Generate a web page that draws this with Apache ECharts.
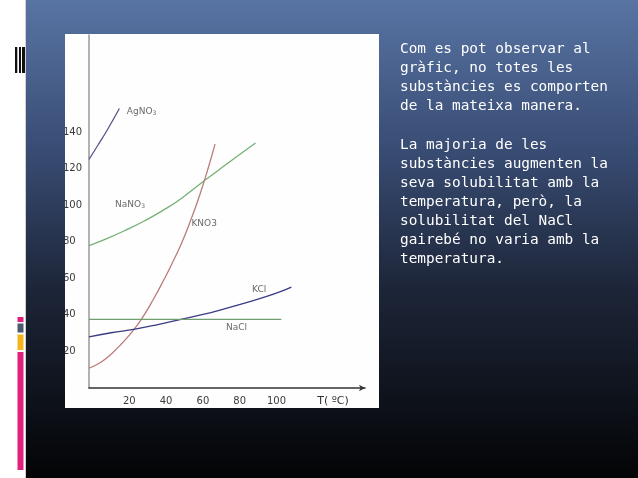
<!DOCTYPE html>
<html>
<head>
<meta charset="utf-8">
<style>
  html, body { margin: 0; padding: 0; background: #fff; }
  #main { width: 638px; height: 478px; }
</style>
<script src="https://cdn.jsdelivr.net/npm/echarts@6/dist/echarts.min.js"></script>
</head>
<body>
<div id="main"></div>
<script>
// solubility curves, [T (ºC), g / 100 g water]
var agno3 = [[0, 125], [5, 133], [10, 141.2], [16.5, 152.8]];
var nano3 = [[0, 77.8], [10, 81.8], [20, 86.3], [30, 91.3], [40, 97], [50, 103.5], [60, 111.3], [70, 118.8], [80, 126.3], [90.5, 134]];
var kno3 = [[0, 10.8], [6, 13.8], [12, 18.5], [18, 24.5], [24.6, 32.2], [30, 40], [35, 48.5], [40, 57.8], [45, 67.8], [50, 78.5], [55, 91], [60, 105], [65, 121], [68.5, 133.3]];
var kcl = [[0, 28], [12, 30.2], [25, 32.2], [38, 34.8], [50, 37.5], [62, 40.2], [74, 43.4], [86, 46.8], [97, 50.2], [104, 52.7], [110, 55.2]];
var nacl = [[0, 37.5], [104.5, 37.5]];

// curve name tags, placed in data coordinates
var curveLabels = [
    {name: 'AgNO{s|3}', value: [28.6, 151]},
    {name: 'NaNO{s|3}', value: [22.3, 100]},
    {name: 'KNO3', value: [62.6, 89.6]},
    {name: 'KCl', value: [92.5, 54]},
    {name: 'NaCl', value: [80.2, 33]}
];

var xTicks = [20, 40, 60, 80, 100];
var yTicks = [20, 40, 60, 80, 100, 120, 140];

var slideText = [
    'Com es pot observar al',
    'gràfic, no totes les',
    'substàncies es comporten',
    'de la mateixa manera.',
    '',
    'La majoria de les',
    'substàncies augmenten la',
    'seva solubilitat amb la',
    'temperatura, però, la',
    'solubilitat del NaCl',
    'gairebé no varia amb la',
    'temperatura.'
].join('\n');

function slideBg() {
    return {
        type: 'linear', x: 0, y: 0, x2: 0, y2: 478, global: true,
        colorStops: [
            {offset: 0, color: '#5874a3'},
            {offset: 0.3, color: '#3a4e76'},
            {offset: 0.6, color: '#1d2639'},
            {offset: 1, color: '#030405'}
        ]
    };
}

var myChart = echarts.init(document.getElementById('main'));

function line(data, color) {
    return {
        type: 'line',
        data: data,
        smooth: true,
        symbol: 'none',
        lineStyle: {color: color, width: 1.3},
        z: 3
    };
}

option = {
    animation: false,
    backgroundColor: '#ffffff',
    textStyle: {fontFamily: 'DejaVu Sans'},
    graphic: [
        // dark slide background
        {type: 'rect', z: -100, shape: {x: 26, y: 0, width: 612, height: 478}, style: {fill: slideBg()}},
        {type: 'rect', z: -100, shape: {x: 25, y: 0, width: 1, height: 478}, style: {fill: '#d0d0d0'}},
        // white picture panel
        {type: 'rect', z: -90, shape: {x: 65, y: 34, width: 314, height: 374}, style: {fill: '#fefefe'}},
        // strip that crops the tick labels at the panel edge
        {type: 'rect', z: 100, shape: {x: 26, y: 0, width: 39, height: 478}, style: {fill: slideBg()}},
        // decorations on the left white strip
        {type: 'rect', z: 100, shape: {x: 15, y: 47, width: 2.3, height: 26}, style: {fill: '#111'}},
        {type: 'rect', z: 100, shape: {x: 19, y: 47, width: 2, height: 26}, style: {fill: '#111'}},
        {type: 'rect', z: 100, shape: {x: 22, y: 47, width: 3, height: 26}, style: {fill: '#111'}},
        {type: 'rect', z: 100, shape: {x: 17.5, y: 317, width: 6, height: 5}, style: {fill: '#e0207c'}},
        {type: 'rect', z: 100, shape: {x: 17.5, y: 323.5, width: 6, height: 9}, style: {fill: '#4c5a70'}},
        {type: 'rect', z: 100, shape: {x: 17.5, y: 334.5, width: 6, height: 15.5}, style: {fill: '#f3b41c'}},
        {type: 'rect', z: 100, shape: {x: 17.5, y: 352, width: 6, height: 118}, style: {fill: '#e0207c'}},
        // axis title
        {type: 'text', z: 100, x: 333, y: 401, style: {
            text: 'T( ºC)', fill: '#333', font: '11px "DejaVu Sans"', align: 'center', verticalAlign: 'middle'
        }},
        // slide text
        {type: 'text', z: 100, x: 400, y: 39.8, style: {
            text: slideText, fill: '#ffffff', font: '14.4px "DejaVu Sans Mono"', lineHeight: 19.1
        }}
    ],
    grid: {
        left: 89,
        right: 273,
        top: 35,
        bottom: 90
    },
    xAxis: {
        type: 'value',
        min: 0,
        max: 150,
        interval: 20,
        splitLine: {show: false},
        axisTick: {show: false},
        axisLine: {
            show: true,
            symbol: ['none', 'arrow'],
            symbolSize: [5, 6],
            lineStyle: {color: '#333', width: 1.5}
        },
        axisLabel: {
            color: '#3a3a3a',
            fontSize: 10,
            margin: 8,
            padding: [0, 0, 0, 7],
            formatter: function (v) {
                return xTicks.indexOf(v) >= 0 ? String(v) : '';
            }
        }
    },
    yAxis: {
        type: 'value',
        min: 0,
        max: 193,
        interval: 20,
        splitLine: {show: false},
        axisTick: {show: false},
        axisLine: {
            show: true,
            lineStyle: {color: '#999', width: 1.5}
        },
        axisLabel: {
            color: '#3a3a3a',
            fontSize: 10,
            align: 'left',
            margin: 26,
            formatter: function (v) {
                return yTicks.indexOf(v) >= 0 ? String(v) : '';
            }
        }
    },
    series: [
        line(agno3, '#56568a'),
        line(nano3, '#74b074'),
        line(kno3, '#bb7b7b'),
        line(kcl, '#3b3b85'),
        line(nacl, '#6f9f6f'),
        {
            type: 'scatter',
            data: curveLabels,
            symbolSize: 0,
            silent: true,
            z: 4,
            label: {
                show: true,
                position: 'inside',
                color: '#444',
                fontSize: 9,
                formatter: '{b}',
                rich: {
                    s: {fontSize: 6, color: '#444', padding: [3, 0, 0, 0]}
                }
            }
        }
    ]
};

myChart.setOption(option);
window.onresize = myChart.resize;
</script>
</body>
</html>
